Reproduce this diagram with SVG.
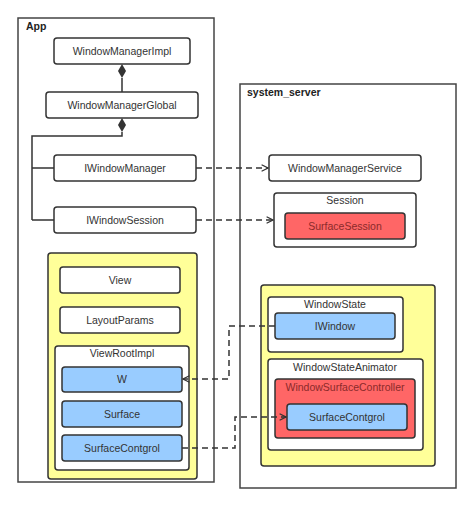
<svg xmlns="http://www.w3.org/2000/svg" width="474" height="507" viewBox="0 0 474 507">
<defs>
<style>
.frame{fill:#fff;stroke:#444;stroke-width:1.5}
.box{fill:#fff;stroke:#333;stroke-width:1.5}
.yel{fill:#ffff99;stroke:#333;stroke-width:1.5}
.blue{fill:#99ccff;stroke:#333;stroke-width:1.5}
.red{fill:#ff6666;stroke:#333;stroke-width:1.5}
text{font-family:"Liberation Sans",Arial,sans-serif;font-size:10.5px;fill:#333;text-anchor:middle}
.ttl{font-weight:bold;text-anchor:start;font-size:10.5px;fill:#222}
.rt{fill:#8b2a2a}
.solid{fill:none;stroke:#333;stroke-width:1.5}
.dash{fill:none;stroke:#333;stroke-width:1.5;stroke-dasharray:6 4}
</style>
<marker id="open" viewBox="0 0 10 10" refX="9" refY="5" markerWidth="8" markerHeight="8" orient="auto" markerUnits="userSpaceOnUse">
<path d="M1,1 L9,5 L1,9" fill="none" stroke="#333" stroke-width="1.5"/>
</marker>
</defs>

<g id="app">
<rect class="frame" x="18" y="18" width="196" height="464"/>
<text class="ttl" x="26" y="30">App</text>
</g>
<g id="system_server">
<rect class="frame" x="240" y="84" width="216" height="404"/>
<text class="ttl" x="247" y="96">system_server</text>
</g>

<g id="WindowManagerImpl"><rect class="box" x="54" y="38" width="136" height="26" rx="3"/><text x="122" y="55">WindowManagerImpl</text></g>
<g id="WindowManagerGlobal"><rect class="box" x="46" y="92" width="152" height="26" rx="3"/><text x="122" y="109">WindowManagerGlobal</text></g>
<g id="IWindowManager"><rect class="box" x="54" y="155" width="142" height="26" rx="3"/><text x="125" y="172">IWindowManager</text></g>
<g id="IWindowSession"><rect class="box" x="54" y="207" width="142" height="26" rx="3"/><text x="125" y="224">IWindowSession</text></g>

<g id="app_window_group"><rect class="yel" x="48" y="253" width="149" height="226" rx="3"/></g>
<g id="View"><rect class="box" x="60" y="267" width="120" height="26" rx="3"/><text x="120" y="284">View</text></g>
<g id="LayoutParams"><rect class="box" x="60" y="307" width="120" height="26" rx="3"/><text x="120" y="324">LayoutParams</text></g>
<g id="ViewRootImpl"><rect class="box" x="55" y="346" width="134" height="124" rx="3"/><text x="122" y="357">ViewRootImpl</text></g>
<g id="W"><rect class="blue" x="62" y="367" width="120" height="25" rx="3"/><text x="122" y="383">W</text></g>
<g id="Surface"><rect class="blue" x="62" y="401" width="120" height="26" rx="3"/><text x="122" y="418">Surface</text></g>
<g id="SurfaceContgrol_app"><rect class="blue" x="62" y="435" width="120" height="26" rx="3"/><text x="122" y="452">SurfaceContgrol</text></g>

<g id="WindowManagerService"><rect class="box" x="269" y="155" width="152" height="26" rx="3"/><text x="345" y="172">WindowManagerService</text></g>
<g id="Session"><rect class="box" x="274" y="193" width="142" height="54" rx="3"/><text x="345" y="204">Session</text></g>
<g id="SurfaceSession"><rect class="red" x="285" y="213" width="120" height="26" rx="3"/><text class="rt" x="345" y="230">SurfaceSession</text></g>

<g id="server_window_group"><rect class="yel" x="261" y="285" width="174" height="181" rx="3"/></g>
<g id="WindowState"><rect class="box" x="268" y="297" width="135" height="55" rx="3"/><text x="335" y="308">WindowState</text></g>
<g id="IWindow"><rect class="blue" x="275" y="313" width="120" height="26" rx="3"/><text x="335" y="330">IWindow</text></g>
<g id="WindowStateAnimator"><rect class="box" x="268" y="359" width="155" height="91" rx="3"/><text x="345" y="371">WindowStateAnimator</text></g>
<g id="WindowSurfaceController"><rect class="red" x="275" y="379" width="140" height="59" rx="3"/><text class="rt" x="345" y="391">WindowSurfaceController</text></g>
<g id="SurfaceContgrol_server"><rect class="blue" x="287" y="404" width="120" height="26" rx="3"/><text x="347" y="421">SurfaceContgrol</text></g>

<g id="connectors">
<path class="solid" d="M122,92 V78 M32,168 H54 M32,220 H54 M32,220 V136 H122 V132"/>
<path d="M122,118 L126,125 L122,132 L118,125 Z" fill="#333"/>
<path d="M122,64 L126,71 L122,78 L118,71 Z" fill="#333"/>
<path class="dash" d="M196,168 H268" marker-end="url(#open)"/>
<path class="dash" d="M196,220 H273" marker-end="url(#open)"/>
<path class="dash" d="M275,326 H229 V379 H183" marker-end="url(#open)"/>
<path class="dash" d="M182,448 H235 V417 H286" marker-end="url(#open)"/>
</g>
</svg>
